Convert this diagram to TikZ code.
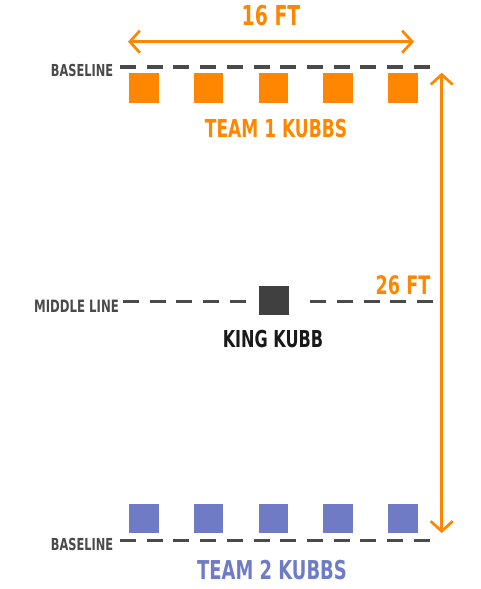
\documentclass[tikz,border=0pt]{standalone}
\usepackage{fontspec}
\usetikzlibrary{arrows.meta}
\newfontfamily\kubbfont{DejaVu Sans}[FakeStretch=0.69]
\definecolor{kubborange}{RGB}{255,134,0}
\definecolor{kubbblue}{RGB}{111,124,197}
\definecolor{kingdark}{RGB}{64,64,64}
\definecolor{linegray}{RGB}{74,74,74}

\begin{document}
\begin{tikzpicture}[x=1pt, y=-1pt,
    kubb/.style={minimum size=29.5pt, inner sep=0pt},
    lbl/.style={inner sep=0pt, text=linegray, font=\kubbfont\bfseries\fontsize{16.5}{16.5}\selectfont},
    bigtxt/.style={inner sep=0pt, font=\kubbfont\bfseries\fontsize{#1}{#1}\selectfont},
    court/.style={linegray, line width=3.3pt, dash pattern=on 16pt off 10.7pt},
    measure/.style={kubborange, line width=2.7pt, line cap=round,
      {Straight Barb[length=10pt,width=22pt]}-{Straight Barb[length=10pt,width=22pt]}}]
    \useasboundingbox (0,0) rectangle (480,589);
    % width of the pitch
    \node[bigtxt=27.4, text=kubborange] (width) at (271,16) {16 FT};
    \coordinate (wl) at (128,41.7);
    \coordinate (wr) at (414,41.7);
    \draw[measure] (wl) -- (wr);
    % team 1 baseline
    \node[lbl] (base1) at (82,70.7) {BASELINE};
    \coordinate (b1l) at (120,67);
    \coordinate (b1r) at (430,67);
    \draw[court] (b1l) -- (b1r);
    \foreach \i in {1,...,5}
        \node[kubb, fill=kubborange] (t\i) at ({144+64.7*(\i-1)},88) {};
    \node[bigtxt=24.7, text=kubborange] (team1) at (276,129) {TEAM 1 KUBBS};
    % middle line and king
    \node[lbl, font=\kubbfont\bfseries\fontsize{17}{17}\selectfont] (mid) at (76.5,306) {MIDDLE LINE};
    \node[kubb, fill=kingdark] (king) at (274,300.3) {};
    \coordinate (ml) at (123,301.7);
    \coordinate (mr) at (433,301.7);
    \draw[court] (ml) -- ++(123.7,0);
    \draw[court] (mr) -- ++(-123.7,0);
    \node[bigtxt=25.5, text=kubborange] (len) at (403,285) {26 FT};
    \node[bigtxt=23.3, text=black!90] (kingtxt) at (273,339) {KING KUBB};
    % length of the pitch
    \coordinate (lt) at (441.7,72.7);
    \coordinate (lb) at (441.7,533);
    \draw[measure] (lt) -- (lb);
    % team 2 baseline
    \foreach \i in {1,...,5}
        \node[kubb, fill=kubbblue] (s\i) at ({144+64.7*(\i-1)},518.3) {};
    \node[lbl] (base2) at (82,544) {BASELINE};
    \coordinate (b2l) at (120,540.7);
    \coordinate (b2r) at (430,540.7);
    \draw[court] (b2l) -- (b2r);
    \node[bigtxt=26, text=kubbblue] (team2) at (272,570) {TEAM 2 KUBBS};
\end{tikzpicture}
\end{document}
